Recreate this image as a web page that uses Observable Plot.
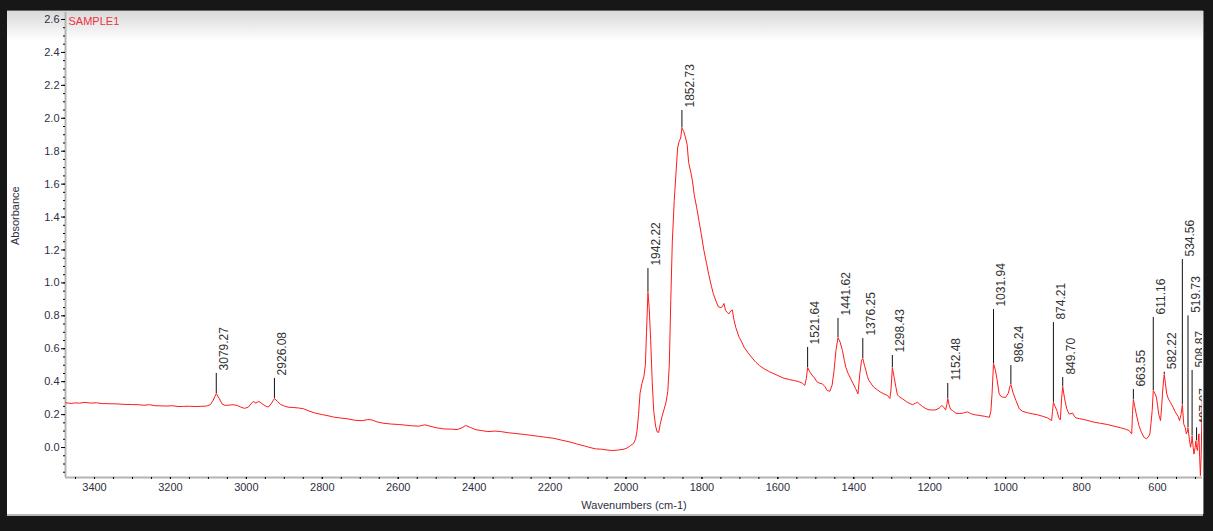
<!DOCTYPE html>
<html>
<head>
<meta charset="utf-8">
<script src="https://cdn.jsdelivr.net/npm/d3@7"></script>
<script src="https://cdn.jsdelivr.net/npm/@observablehq/plot@0.6"></script>
<style>
  html, body { margin: 0; padding: 0; background: #171717; width: 1213px; height: 531px; overflow: hidden; }
  #panel {
    position: absolute; left: 7px; top: 11px; width: 1196px; height: 503px;
    background: linear-gradient(to bottom, #d9d9d9 0px, #ffffff 30px);
    box-shadow: 0 2px 0 #b8b8b8, 1px 0 0 #777, 0 -1px 0 #666;
  }
  #panel svg { position: absolute; left: 0; top: 0; background: transparent; }
</style>
</head>
<body>
<div id="panel"></div>
<script>
// Spectrum: wavenumber (cm-1) and absorbance
const wavenumbers = [3476,3462,3450,3440,3425,3410,3395,3380,3360,3340,3320,3300,3285,3270,3255,3240,3225,3210,3195,3180,3165,3150,3135,3120,3105,3095,3088,3079.27,3072,3064,3056,3045,3035,3025,3015,3005,2995,2988,2982,2975,2967,2958,2948,2942,2935,2926.08,2918,2910,2900,2890,2875,2862,2850,2835,2820,2800,2785,2770,2755,2735,2715,2695,2680,2670,2655,2640,2620,2600,2585,2565,2545,2530,2520,2500,2480,2460,2445,2432,2422,2410,2395,2380,2364,2345,2330,2310,2290,2270,2250,2230,2210,2190,2170,2150,2130,2110,2095,2080,2065,2050,2035,2020,2005,1995,1988,1980,1975,1971,1967,1963,1958,1953,1949,1946,1942.22,1939,1935,1931,1927,1922,1918,1914,1910,1905,1900,1895,1890,1886,1882,1878,1873,1868,1864,1860,1856,1852.73,1848,1843,1839,1835,1830,1825,1820,1814,1808,1802,1795,1788,1782,1775,1770,1763,1757,1750,1746,1742,1738,1733,1729,1724,1720,1716,1711,1702,1695,1689,1680,1670,1658,1648,1636,1622,1610,1597,1584,1570,1557,1545,1535,1529,1525,1521.64,1516,1510,1505,1500,1496,1489,1483,1476,1470,1463,1457,1452,1447,1441.62,1436,1430,1425,1421,1415,1408,1400,1395,1389,1384,1379.5,1376.25,1372,1368,1364,1360,1352,1347,1338,1329,1320,1311,1305,1302,1298.43,1294,1289,1285,1281,1272,1265,1259,1250,1245,1237,1232,1226,1219,1210,1202,1193,1184,1175,1168,1163,1158,1155,1152.48,1149,1145,1140,1131,1122,1114,1106,1100,1092,1083,1070,1056,1043,1039,1036,1031.94,1027,1023,1017,1012,1008,1000,993,989,986.24,980,973,964,955,942,930,916,903,890,883,879,876.5,874.21,870,865,860,856,852.5,849.70,845,839,833,828,824,819,815,805,793,780,767,750,732,715,697,685,675,668,666,663.55,660,656,649,642,636,629,624,620,617,614,611.16,607,603,600,597,592,589,587,584,582.22,579,576,573,570,566,559,554,550,546,542,538,534.56,531,527,524,521,519.73,516,513,510,508.87,506,504,501,499,497,495,493,491,489,487,485,483,481];
const absorbance = [0.272,0.268,0.271,0.27,0.274,0.27,0.272,0.267,0.266,0.265,0.262,0.261,0.26,0.257,0.26,0.254,0.253,0.252,0.254,0.249,0.25,0.251,0.249,0.25,0.252,0.26,0.285,0.328,0.3,0.265,0.256,0.258,0.26,0.256,0.246,0.238,0.245,0.265,0.28,0.27,0.28,0.265,0.25,0.246,0.265,0.298,0.28,0.262,0.252,0.245,0.243,0.24,0.236,0.222,0.21,0.2,0.193,0.185,0.18,0.175,0.166,0.163,0.17,0.168,0.155,0.148,0.143,0.14,0.137,0.132,0.13,0.138,0.132,0.12,0.113,0.112,0.109,0.12,0.134,0.122,0.108,0.103,0.097,0.1,0.097,0.09,0.085,0.08,0.074,0.068,0.062,0.056,0.045,0.035,0.022,0.01,0.0,-0.008,-0.01,-0.015,-0.018,-0.015,-0.01,0.0,0.012,0.025,0.05,0.1,0.2,0.33,0.39,0.43,0.5,0.7,0.942,0.85,0.65,0.4,0.22,0.13,0.095,0.092,0.14,0.19,0.23,0.27,0.34,0.5,0.9,1.25,1.5,1.68,1.82,1.86,1.88,1.94,1.92,1.88,1.84,1.73,1.68,1.62,1.53,1.46,1.38,1.3,1.2,1.12,1.05,0.98,0.934,0.89,0.855,0.85,0.856,0.875,0.835,0.82,0.812,0.83,0.836,0.78,0.73,0.67,0.64,0.61,0.58,0.55,0.518,0.497,0.478,0.46,0.448,0.434,0.421,0.413,0.407,0.4,0.39,0.377,0.42,0.486,0.46,0.44,0.427,0.41,0.397,0.39,0.387,0.37,0.346,0.342,0.38,0.468,0.59,0.668,0.64,0.59,0.53,0.488,0.45,0.417,0.38,0.357,0.326,0.45,0.53,0.541,0.5,0.468,0.43,0.407,0.38,0.366,0.35,0.336,0.325,0.316,0.298,0.35,0.486,0.43,0.366,0.32,0.31,0.296,0.285,0.275,0.265,0.261,0.27,0.275,0.262,0.249,0.236,0.229,0.228,0.229,0.24,0.255,0.245,0.229,0.26,0.298,0.26,0.232,0.225,0.208,0.207,0.208,0.214,0.216,0.206,0.2,0.195,0.19,0.184,0.22,0.32,0.51,0.47,0.417,0.326,0.31,0.306,0.305,0.33,0.37,0.383,0.33,0.286,0.235,0.22,0.211,0.205,0.199,0.19,0.18,0.17,0.164,0.22,0.275,0.25,0.225,0.18,0.168,0.3,0.371,0.3,0.235,0.204,0.205,0.21,0.19,0.18,0.175,0.17,0.162,0.154,0.147,0.14,0.13,0.12,0.112,0.103,0.083,0.2,0.292,0.25,0.204,0.134,0.09,0.063,0.053,0.065,0.083,0.15,0.225,0.346,0.33,0.306,0.26,0.204,0.164,0.25,0.326,0.41,0.443,0.387,0.33,0.306,0.29,0.275,0.245,0.22,0.204,0.19,0.164,0.2,0.261,0.144,0.12,0.083,0.1,0.12,0.05,0.002,0.04,0.07,0.0,-0.04,0.0,0.04,0.0,-0.018,0.03,0.083,-0.06,-0.17,-0.05,0.2,0.39];

// Peak annotations
const peakLabels = ["3079.27","2926.08","1942.22","1852.73","1521.64","1441.62","1376.25","1298.43","1152.48","1031.94","986.24","874.21","849.70","663.55","611.16","582.22","534.56","519.73","508.87","497.07"];
const peakAbs    = [0.328,0.298,0.942,1.94,0.486,0.668,0.541,0.486,0.298,0.51,0.383,0.275,0.371,0.292,0.346,0.443,0.261,0.12,0.07,0.04];
const peakTop    = [0.45,0.42,1.087,2.047,0.608,0.784,0.662,0.559,0.389,0.838,0.498,0.759,0.425,0.352,0.79,0.458,1.142,0.80,0.468,0.12];

// Axes
const xTicks = [3400,3200,3000,2800,2600,2400,2200,2000,1800,1600,1400,1200,1000,800,600];
const yTicks = [0.0,0.2,0.4,0.6,0.8,1.0,1.2,1.4,1.6,1.8,2.0,2.2,2.4,2.6];
const xMinor = d3.range(3450, 480, -50);
const yMinor = d3.range(-3, 53).map(i => i * 0.05);
const xDomain = [3476.4, 481.5];
const yDomain = [-0.182, 2.6425];

const spectrum = wavenumbers.map((w, i) => ({wn: w, a: absorbance[i]}));
const peaks = peakLabels.map((l, i) => ({label: l, wn: +l, a: peakAbs[i], top: peakTop[i]}));

const font = "'Liberation Sans', Arial, sans-serif";
const tickColor = "#2f3040";

const chart = Plot.plot({
  width: 1196,
  height: 503,
  marginLeft: 58,
  marginRight: 1,
  marginTop: 1,
  marginBottom: 37,
  style: {background: "transparent", fontFamily: font, fontSize: "11px", color: tickColor},
  x: {domain: xDomain, label: null},
  y: {domain: yDomain, label: null},
  marks: [
    Plot.ruleX([xDomain[0]], {stroke: "#b4b4b4", strokeWidth: 2}),
    Plot.ruleY([yDomain[0]], {stroke: "#b4b4b4", strokeWidth: 2}),
    Plot.axisX(xMinor, {tickSize: 2, tickFormat: () => "", label: null, stroke: "#000"}),
    Plot.axisX(xTicks, {tickSize: 2, tickPadding: 4, tickFormat: d3.format("d"), label: null, stroke: "#000", fill: tickColor, fontSize: 11}),
    Plot.axisY(yMinor, {tickSize: 2, tickFormat: () => "", label: null, stroke: "#000"}),
    Plot.axisY(yTicks, {tickSize: 4, tickPadding: 2, tickFormat: d3.format(".1f"), label: null, stroke: "#000", fill: tickColor, fontSize: 11}),
    Plot.text(["Absorbance"], {frameAnchor: "left", dx: -50, rotate: -90, fill: tickColor, fontSize: 11}),
    Plot.text(["Wavenumbers (cm-1)"], {frameAnchor: "bottom", dy: 31, fill: tickColor, fontSize: 11}),
    Plot.text(["SAMPLE1"], {frameAnchor: "top-left", textAnchor: "start", lineAnchor: "top", dx: 3, dy: 5, fill: "#ee3340", fontSize: 11}),
    Plot.line(spectrum, {x: "wn", y: "a", stroke: "#ff1a1a", strokeWidth: 1, clip: true}),
    Plot.ruleX(peaks, {x: "wn", y1: "a", y2: "top", stroke: "#111", strokeWidth: 1, clip: true}),
    Plot.text(peaks, {x: "wn", y: "top", text: "label", rotate: -90, textAnchor: "start", dx: 8, dy: -3, fill: "#333", fontSize: 12, clip: true})
  ]
});
document.getElementById("panel").appendChild(chart);
</script>
</body>
</html>
